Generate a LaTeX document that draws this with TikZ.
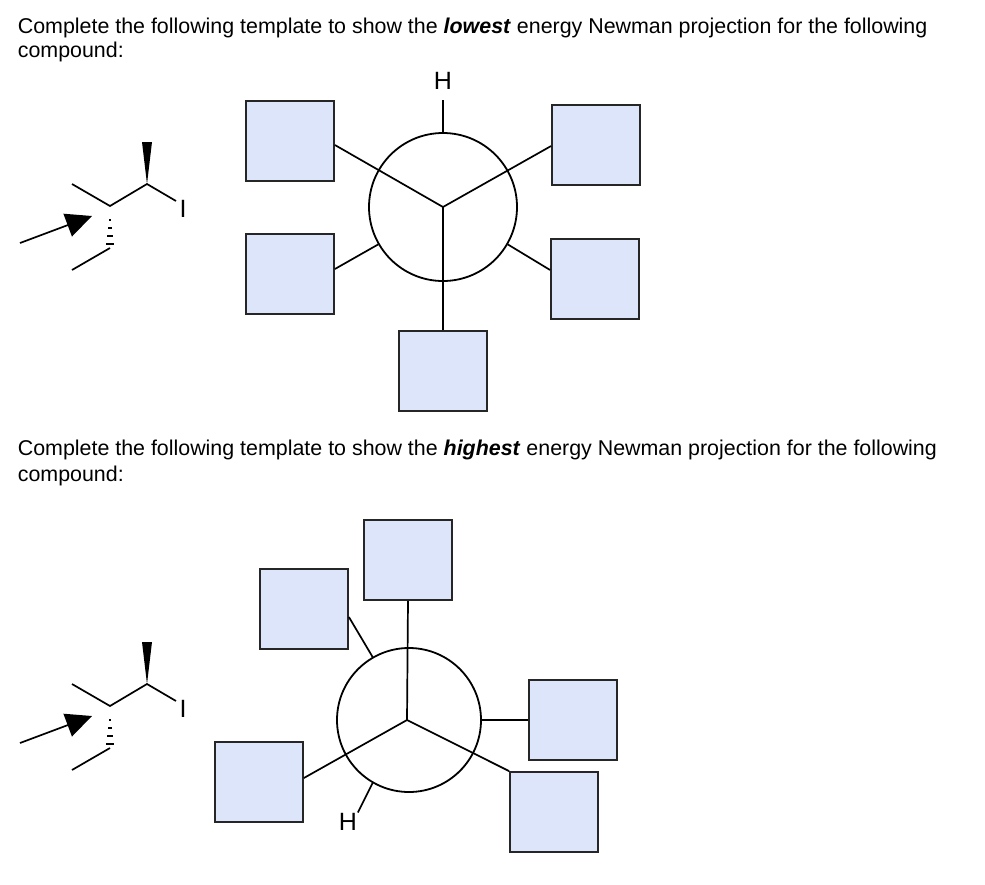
\documentclass[tikz,border=0pt]{standalone}
\usepackage{fontspec}
\setmainfont{Liberation Sans}
\usetikzlibrary{arrows.meta}
\definecolor{boxblue}{RGB}{221,229,251}
\begin{document}
\begin{tikzpicture}[x=1pt,y=-1pt,line width=1.7pt]
\tikzset{
    blank/.style={%
        draw=black!85, line width=1.8pt,
        fill=boxblue,
        rectangle,
        minimum width=88pt,
        minimum height=80pt,
        inner sep=0pt
        },
    ring/.style={%
        draw, circle, line width=1.8pt,
        inner sep=0pt
        },
    txt/.style={anchor=base west, inner sep=0pt, font=\fontsize{21.4}{24}\selectfont},
    atom/.style={inner sep=0pt, font=\fontsize{25}{25}\selectfont},
}
\useasboundingbox (0,0) rectangle (985,884);
%%%QUESTIONS
\node[txt] (q1a) at (17,33) {Complete the following template to show the \textbf{\textit{lowest}} energy Newman projection for the following};
\node[txt] (q1b) at (17,57) {compound:};
\node[txt] (q2a) at (17,455) {Complete the following template to show the \textbf{\textit{highest}} energy Newman projection for the following};
\node[txt] (q2b) at (17,481) {compound:};
%%%MOLECULES
\foreach \dy in {0,500} {
\begin{scope}[yshift=-\dy]
\coordinate (c2) at (110,206);
\coordinate (c3) at (147,184);
\coordinate (me) at (72,184);
\coordinate (et) at (110,248);
\fill (c3) -- (142,142) -- (152,142) -- cycle;
\draw (me) -- (c2) -- (c3) -- (176,201);
\node[atom] (i) at (183,209) {I};
\foreach \k/\w in {1/1,2/2,3/3,4/4} \draw[line width=1.7pt] (110-\w,212+8*\k) -- (110+\w,212+8*\k);
\draw (et) -- (72,270);
\draw[-{Triangle[length=26pt,width=24pt]}] (20,243) -- (92,216);
\end{scope}
}
%%%LOWEST
\node[ring, minimum size=148pt] (n1) at (443,207) {};
\coordinate (n1c) at (443,207);
\node[atom] (h1) at (443,81) {H};
\node[blank] (b1) at (290,141) {};
\node[blank] (b2) at (596,145) {};
\node[blank] (b3) at (290,274) {};
\node[blank] (b4) at (595,279) {};
\node[blank] (b5) at (443,371) {};
\draw (n1c) -- (b1.east |- 0,145);
\draw (n1c) -- (b2.west |- 0,146);
\draw (n1c) -- (b5.north);
\draw (n1.90) -- (443,100);
\draw (n1.210) -- (b3.east |- 0,269);
\draw (n1.330) -- (b4.west |- 0,270);
%%%HIGHEST
\node[ring, minimum size=144pt] (n2) at (409,720) {};
\coordinate (n2c) at (407,720);
\node[blank] (d1) at (408,560) {};
\node[blank] (d2) at (304,609) {};
\node[blank] (d3) at (573,720) {};
\node[blank] (d4) at (259,782) {};
\node[blank] (d5) at (554,812) {};
\node[atom] (h2) at (348,822) {H};
\draw (n2c) -- (d1.south);
\draw (n2c) -- (d4.east |- 0,778);
\draw (n2c) -- (d5.north west);
\draw (n2.120) -- (d2.east |- 0,617);
\draw (n2.0) -- (d3.west);
\draw (n2.240) -- (h2.north east);
\end{tikzpicture}
\end{document}
